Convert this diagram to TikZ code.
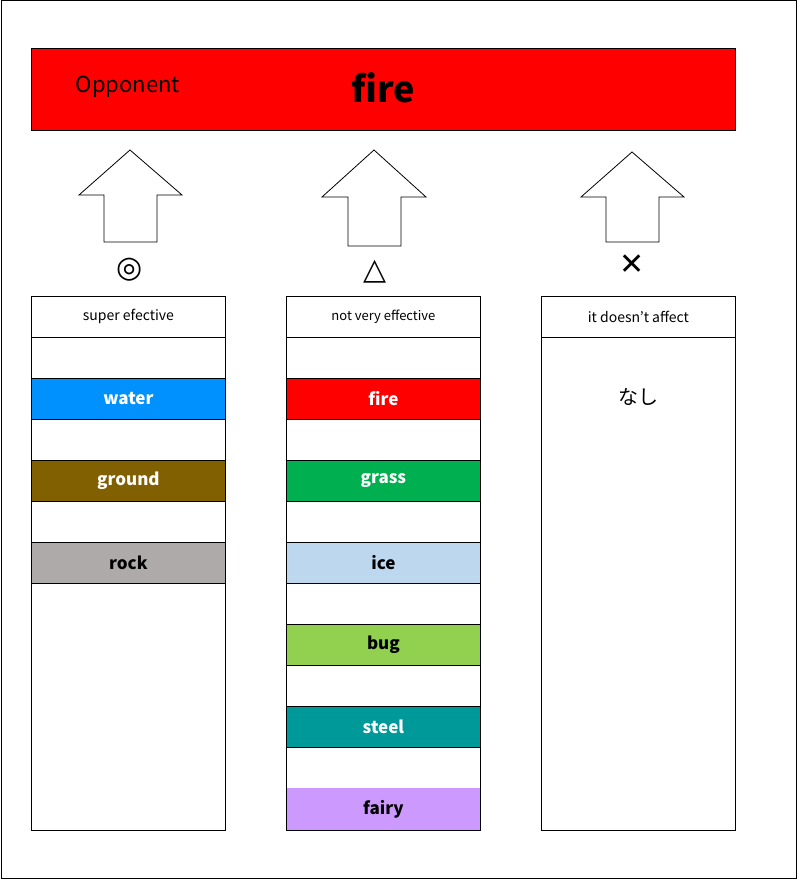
\documentclass[tikz,border=0pt]{standalone}
\usepackage{fontspec}
\setmainfont{Noto Sans CJK JP}
\newfontfamily\symf{DejaVu Sans}
\definecolor{cwater}{RGB}{0,145,255}
\definecolor{cground}{RGB}{128,96,0}
\definecolor{crock}{RGB}{174,170,170}
\definecolor{cgrass}{RGB}{0,176,80}
\definecolor{cice}{RGB}{189,215,238}
\definecolor{cbug}{RGB}{146,208,80}
\definecolor{csteel}{RGB}{0,153,153}
\definecolor{cfairy}{RGB}{204,153,255}
\tikzset{
  cell/.style={draw=black,line width=0.8pt,minimum width=194pt,minimum height=41pt,anchor=north west,inner sep=0pt,font=\fontsize{17}{17}\selectfont\bfseries},
  hdr/.style={draw=black,line width=0.8pt,minimum width=194pt,minimum height=41pt,anchor=north west,inner sep=0pt,font=\fontsize{14}{14}\selectfont},
  col/.style={draw=black,line width=0.8pt,anchor=north west,minimum width=194pt,minimum height=534pt,inner sep=0pt},
  barrow/.style={draw=black,fill=white,line width=0.8pt}
}
\begin{document}
\begin{tikzpicture}[x=1pt,y=-1pt]
\useasboundingbox (0,0) rectangle (798,880);
\draw[line width=1pt] (1,1) rectangle (796,878);
\node[draw=black,fill=red,line width=0.8pt,anchor=north west,minimum width=704pt,minimum height=82pt,inner sep=0pt] (bar) at (31,48) {};
\node[font=\fontsize{22}{22}\selectfont] (opp) at (128,87) {Opponent};
\node[font=\fontsize{36}{36}\selectfont\bfseries] (fire) at (383,88) {fire};
% arrows
\draw[barrow] (130,150) -- (182,195) -- (157,195) -- (157,242) -- (104,242) -- (104,195) -- (79,195) -- cycle;
\draw[barrow] (374,150) -- (426,197) -- (401,197) -- (401,246) -- (348,246) -- (348,197) -- (322,197) -- cycle;
\draw[barrow] (632,152) -- (684,197) -- (659,197) -- (659,242) -- (606,242) -- (606,197) -- (581,197) -- cycle;
\node[font=\symf\fontsize{30}{30}\selectfont] (s1) at (130,270) {◎};
\node[font=\symf\fontsize{30}{30}\selectfont] (s2) at (375,272) {△};
\node[font=\symf\fontsize{30}{30}\selectfont] (s3) at (632,265) {✕};
% columns
\node[col] (c1) at (31,296) {};
\node[col] (c2) at (286,296) {};
\node[col] (c3) at (541,296) {};
\node[hdr] (h1) at (31,296) {super efective};
\node[hdr] (h2) at (286,296) {\fontsize{13}{13}\selectfont not very effective};
\node[hdr] (h3) at (541,296) {it doesn't affect};
\node[cell] (b1) at (31,337) {};
\node[cell,fill=cwater,text=white] (w) at (31,378) {water};
\node[cell] (b2) at (31,419) {};
\node[cell,fill=cground,text=white] (g) at (31,460) {ground};
\node[cell] (b3) at (31,501) {};
\node[cell,fill=crock] (r) at (31,542) {rock};
\node[cell] (d1) at (286,337) {};
\node[cell,fill=red,text=white] (f) at (286,378) {fire};
\node[cell] (d2) at (286,419) {};
\node[cell,fill=cgrass,text=white] (gr) at (286,460) {grass};
\node[cell] (d3) at (286,501) {};
\node[cell,fill=cice] (ic) at (286,542) {ice};
\node[cell] (d4) at (286,583) {};
\node[cell,fill=cbug] (bu) at (286,624) {bug};
\node[cell] (d5) at (286,665) {};
\node[cell,fill=csteel,text=white] (st) at (286,706) {steel};
\node[cell] (d6) at (286,747) {};
\node[cell,draw=none,fill=cfairy,minimum height=42pt] (fa) at (286,788) {fairy};
\draw[line width=0.8pt] (286,830) -- (286,788);
\node[font=\fontsize{20}{20}\selectfont] (nashi) at (638,397) {なし};
\end{tikzpicture}
\end{document}
